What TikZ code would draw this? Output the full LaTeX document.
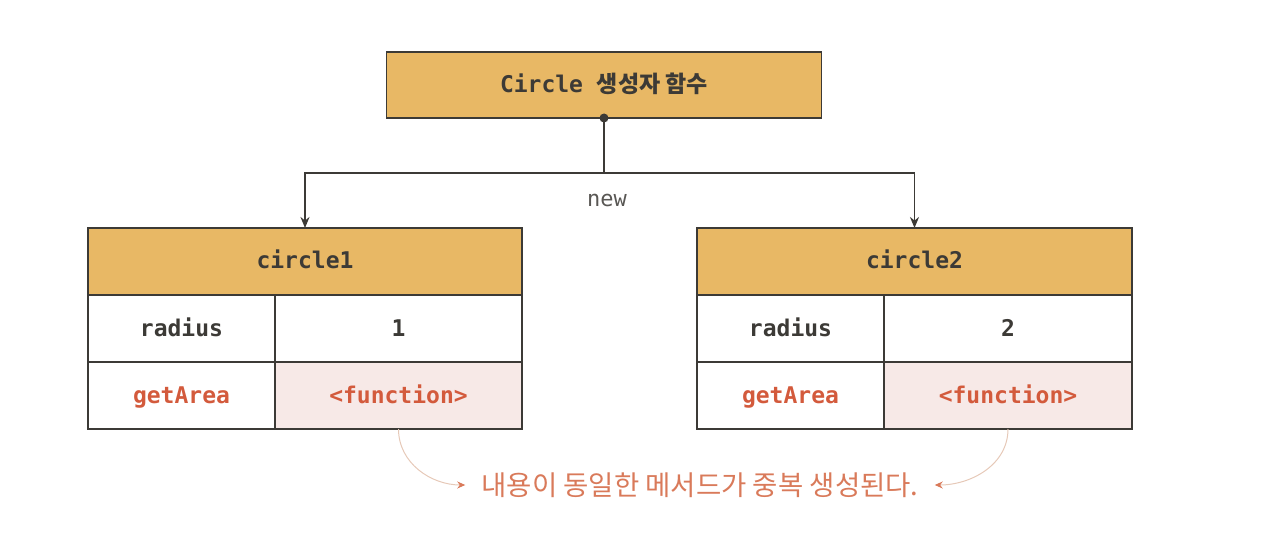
\documentclass[tikz,border=0pt]{standalone}
\usepackage{fontspec}
\setmonofont{DejaVu Sans Mono}
\newfontfamily\krfont{Noto Sans CJK KR}
\usetikzlibrary{arrows.meta, positioning}

\definecolor{headc}{HTML}{E8B865}
\definecolor{linec}{HTML}{3C3A36}
\definecolor{redc}{HTML}{D35A3C}
\definecolor{pinkc}{HTML}{F7E9E7}
\definecolor{notec}{HTML}{D97A5A}
\definecolor{curvec}{HTML}{E6C9B8}

\begin{document}
\begin{tikzpicture}
        [
        x=1pt, y=-1pt,
        every node/.style={font=\fontsize{23}{27}\selectfont\ttfamily\bfseries, text=linec},
        box/.style={draw=linec, line width=1.8pt, inner sep=0pt, outer sep=0pt, anchor=north west,
            minimum height=67, text height=18pt, text depth=3pt},
        head/.style={box, fill=headc, minimum width=434},
        key/.style={box, minimum width=187},
        val/.style={box, minimum width=247},
        arrow/.style={-{Stealth[length=11pt,width=9pt]}, draw=linec, line width=1.8pt},
        dup/.style={-{Stealth[length=8pt,width=7pt,color=notec]}, draw=curvec, line width=1pt}
        ]

        \useasboundingbox (0,0) rectangle (1264,540);

        \node (ctor) [box, anchor=center, fill=headc, minimum width=435, minimum height=66] at (604,85)
            {Circle {\krfont\bfseries 생성자 함수}};

        % circle1
        \node (c1head) [head] at (88,228) {circle1};
        \node (c1rkey) [key] at (c1head.south west) {radius};
        \node (c1rval) [val] at (c1rkey.north east) {1};
        \node (c1gkey) [key, text=redc] at (c1rkey.south west) {getArea};
        \node (c1gval) [val, fill=pinkc, text=redc] at (c1gkey.north east) {<function>};

        % circle2
        \node (c2head) [head, minimum width=435] at (697,228) {circle2};
        \node (c2rkey) [key] at (c2head.south west) {radius};
        \node (c2rval) [val, minimum width=248] at (c2rkey.north east) {2};
        \node (c2gkey) [key, text=redc] at (c2rkey.south west) {getArea};
        \node (c2gval) [val, minimum width=248, fill=pinkc, text=redc] at (c2gkey.north east) {<function>};

        % Edges
        \coordinate (fork) at (604,173);
        \fill [linec] (ctor.south) circle (4.5);
        \draw [draw=linec, line width=1.8pt] (ctor.south) -- (fork);
        \draw [arrow] (fork) -| (c1head.north);
        \draw [arrow] (fork) -| (c2head.north);
        \node (new) [font=\fontsize{22}{26}\selectfont\ttfamily, text=linec!85] at (607,200) {new};

        \node (note) [font=\fontsize{27.5}{31}\selectfont\krfont, text=notec, inner xsep=16pt] at (700,485)
            {내용이 동일한 메서드가 중복 생성된다.};
        \draw [dup] (c1gval.south) to[out=-90, in=180] (note.west);
        \draw [dup] (c2gval.south) to[out=-90, in=0] (note.east);

    \end{tikzpicture}
\end{document}
